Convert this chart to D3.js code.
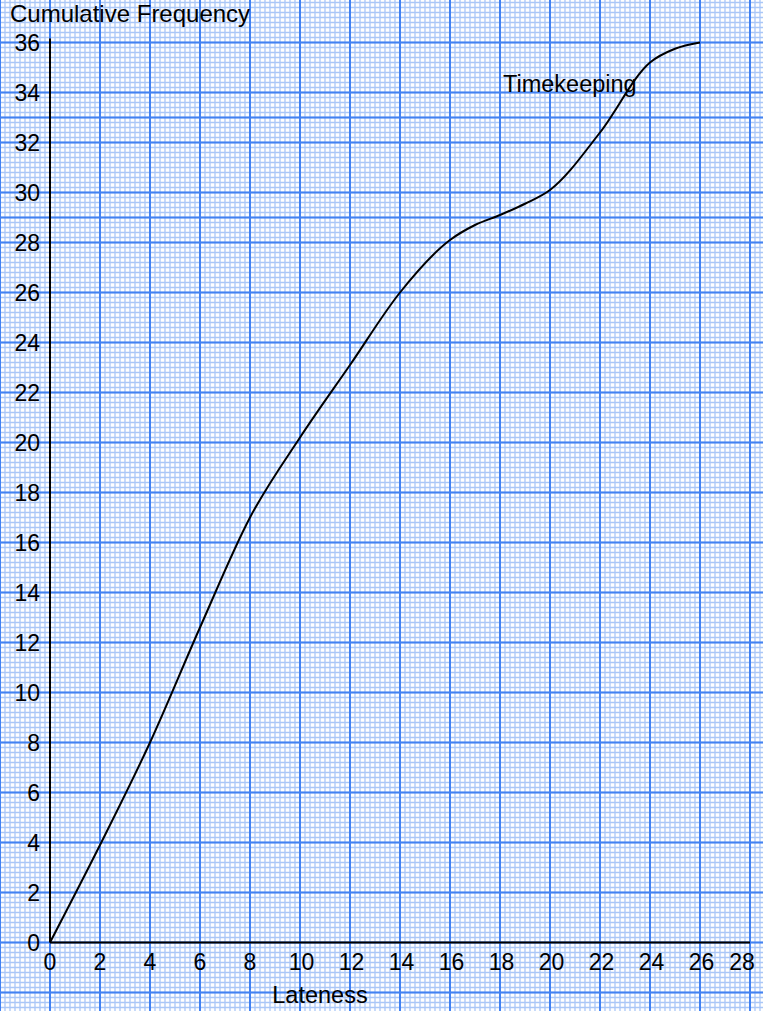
<!DOCTYPE html>
<html>
<head>
<meta charset="utf-8">
<script src="https://cdn.jsdelivr.net/npm/d3@7"></script>
<style>
  body { margin: 0; background: #fff; }
  text { font-family: "Liberation Sans", Arial, sans-serif; fill: #000; }
</style>
</head>
<body>
<div id="myChart"></div>
<script>
let svgW = 763;
let svgH = 1011;

// data
const lateness = [0, 2, 4, 6, 8, 10, 12, 14, 16, 17, 18, 19, 20, 22, 24, 25, 26];
const cumFreq  = [0, 3.9, 8, 12.6, 17, 20.2, 23.1, 26, 28.1, 28.7, 29.1, 29.55, 30.1, 32.4, 35.2, 35.75, 36];
const xTickLabels = [0, 2, 4, 6, 8, 10, 12, 14, 16, 18, 20, 22, 24, 26, 28];
const yTickLabels = [0, 2, 4, 6, 8, 10, 12, 14, 16, 18, 20, 22, 24, 26, 28, 30, 32, 34, 36];
const extraRows = [29, 33];   // odd extra dark rows on the paper

let svg = d3.select("#myChart").append("svg");
svg.attr("width", svgW);
svg.attr("height", svgH);

svg.append("rect").attr("width", svgW).attr("height", svgH).attr("fill", "#fff");

const x = d3.scaleLinear().domain([0, 28]).range([50, 750]);
const y = d3.scaleLinear().domain([0, 36]).range([942.5, 42.5]);

// graph paper: minor every 0.2, major every 2
const minorX = d3.range(-2, 31, 0.2);
const minorY = d3.range(-3, 40, 0.2);
const majorX = d3.range(-2, 31, 2);
const majorY = d3.range(-4, 40, 2).concat(extraRows);

const grid = svg.append("g");
grid.selectAll(".mx").data(minorX).enter().append("line")
  .attr("x1", d => x(d)).attr("x2", d => x(d))
  .attr("y1", 0).attr("y2", svgH)
  .attr("stroke", "#aac7f7").attr("stroke-width", 1.3);
grid.selectAll(".my").data(minorY).enter().append("line")
  .attr("y1", d => y(d)).attr("y2", d => y(d))
  .attr("x1", 0).attr("x2", svgW)
  .attr("stroke", "#aac7f7").attr("stroke-width", 1.3);
grid.selectAll(".MX").data(majorX).enter().append("line")
  .attr("x1", d => x(d)).attr("x2", d => x(d))
  .attr("y1", 0).attr("y2", svgH)
  .attr("stroke", "#4282f2").attr("stroke-width", 2);
grid.selectAll(".MY").data(majorY).enter().append("line")
  .attr("y1", d => y(d)).attr("y2", d => y(d))
  .attr("x1", 0).attr("x2", svgW)
  .attr("stroke", "#4282f2").attr("stroke-width", 2);

// axes
svg.append("line")
  .attr("x1", x(0)).attr("x2", x(0))
  .attr("y1", y(36) - 4).attr("y2", y(0))
  .attr("stroke", "#000").attr("stroke-width", 2);
svg.append("line")
  .attr("x1", x(0)).attr("x2", x(28))
  .attr("y1", y(0)).attr("y2", y(0))
  .attr("stroke", "#000").attr("stroke-width", 2);

svg.selectAll(".ylab").data(yTickLabels).enter().append("text")
  .attr("x", 40)
  .attr("y", d => y(d))
  .attr("dy", "0.36em")
  .attr("text-anchor", "end")
  .style("font-size", "23px")
  .text(d => d);

svg.selectAll(".xlab").data(xTickLabels).enter().append("text")
  .attr("x", d => Math.min(x(d) + (d >= 10 ? 1.5 : 0), svgW - 21))
  .attr("y", y(0) + 27)
  .attr("text-anchor", "middle")
  .style("font-size", "23px")
  .text(d => d);

svg.append("text")
  .attr("x", 10).attr("y", 22)
  .style("font-size", "24px")
  .text("Cumulative Frequency");

svg.append("text")
  .attr("x", 320).attr("y", 1003)
  .attr("text-anchor", "middle")
  .style("font-size", "23.5px")
  .text("Lateness");

svg.append("text")
  .attr("x", 503).attr("y", 92)
  .style("font-size", "23.5px")
  .text("Timekeeping");

// the ogive
const line = d3.line()
  .x(d => x(d[0]))
  .y(d => y(d[1]))
  .curve(d3.curveMonotoneX);

svg.append("path")
  .datum(d3.zip(lateness, cumFreq))
  .attr("d", line)
  .attr("fill", "none")
  .attr("stroke", "#000")
  .attr("stroke-width", 2);
</script>
</body>
</html>
